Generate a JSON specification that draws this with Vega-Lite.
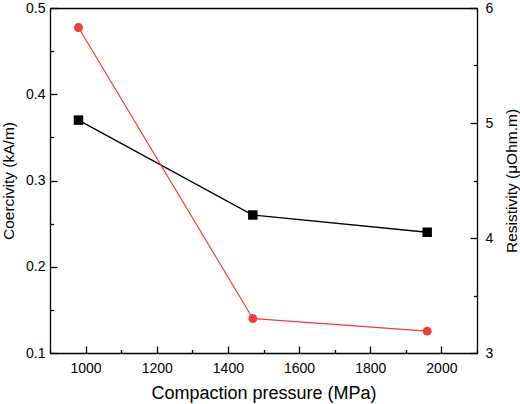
{
  "$schema": "https://vega.github.io/schema/vega-lite/v6.json",
  "autosize": "none",
  "width": 413,
  "height": 331,
  "padding": {"left": 57, "top": 15, "right": 50, "bottom": 58},
  "background": "white",
  "config": {
    "view": {"stroke": null},
    "font": "Liberation Sans",
    "axis": {
      "grid": false,
      "domain": false,
      "domainColor": "black",
      "domainWidth": 1.3,
      "labelColor": "black",
      "titleColor": "black",
      "labelFont": "Liberation Sans",
      "titleFont": "Liberation Sans",
      "labelFontSize": 14,
      "titleFontSize": 15.5,
      "titleFontWeight": "normal"
    }
  },
  "datasets": {
    "coercivity": [
      {"pressure": 980, "coercivity": 0.37},
      {"pressure": 1470, "coercivity": 0.26},
      {"pressure": 1960, "coercivity": 0.24}
    ],
    "resistivity": [
      {"pressure": 980, "resistivity": 5.83},
      {"pressure": 1470, "resistivity": 3.3},
      {"pressure": 1960, "resistivity": 3.19}
    ]
  },
  "layer": [
    {
      "data": {"name": "coercivity"},
      "mark": {"type": "line", "color": "black", "strokeWidth": 1.3},
      "encoding": {
        "x": {
          "field": "pressure", "type": "quantitative",
          "scale": {"domain": [900, 2100], "range": [-7, 420], "nice": false, "zero": false},
          "axis": {
            "orient": "bottom",
            "values": [1000, 1200, 1400, 1600, 1800, 2000],
            "format": "d",
            "ticks": true,
            "tickColor": "black",
            "tickWidth": 1.3,
            "tickSize": 7,
            "labelPadding": 8,
            "title": "Compaction pressure (MPa)",
            "titleFontSize": 18,
            "titlePadding": 9
          }
        },
        "y": {
          "field": "coercivity", "type": "quantitative",
          "scale": {"domain": [0.1, 0.5], "range": [338, -7], "nice": false, "zero": false},
          "axis": {
            "orient": "left",
            "values": [0.1, 0.2, 0.3, 0.4, 0.5],
            "format": ".1f",
            "ticks": true,
            "tickColor": "black",
            "tickWidth": 1.3,
            "tickSize": 7,
            "labelPadding": 5,
            "title": "Coercivity (kA/m)",
            "titlePadding": 9
          }
        }
      }
    },
    {
      "data": {"name": "coercivity"},
      "mark": {"type": "point", "shape": "square", "filled": true, "color": "black", "opacity": 1, "size": 90},
      "encoding": {
        "x": {
          "field": "pressure", "type": "quantitative",
          "scale": {"domain": [900, 2100], "range": [-7, 420], "nice": false, "zero": false},
          "axis": {
            "orient": "bottom",
            "values": [900, 1100, 1300, 1500, 1700, 1900, 2100],
            "ticks": true,
            "tickColor": "black",
            "tickWidth": 1.3,
            "offset": 3.5,
            "tickSize": 3.5,
            "labels": false,
            "title": null
          }
        },
        "y": {
          "field": "coercivity", "type": "quantitative",
          "scale": {"domain": [0.1, 0.5], "range": [338, -7], "nice": false, "zero": false},
          "axis": {
            "orient": "left",
            "values": [0.15, 0.25, 0.35, 0.45],
            "ticks": true,
            "tickColor": "black",
            "tickWidth": 1.3,
            "offset": 3.5,
            "tickSize": 3.5,
            "labels": false,
            "title": null
          }
        }
      }
    },
    {
      "data": {"name": "resistivity"},
      "mark": {"type": "line", "color": "#f03c3c", "strokeWidth": 1.2},
      "encoding": {
        "x": {
          "field": "pressure", "type": "quantitative",
          "scale": {"domain": [900, 2100], "range": [-7, 420], "nice": false, "zero": false},
          "axis": {
            "orient": "top",
            "domain": true,
            "ticks": false,
            "labels": false,
            "offset": 7,
            "title": null
          }
        },
        "y": {
          "field": "resistivity", "type": "quantitative",
          "scale": {"domain": [3, 6], "range": [338, -7], "nice": false, "zero": false},
          "axis": {
            "orient": "right",
            "values": [3, 4, 5, 6],
            "ticks": true,
            "tickColor": "black",
            "tickWidth": 1.3,
            "tickSize": 7,
            "labelPadding": 8,
            "title": "Resistivity (μOhm.m)",
            "titleAngle": -90,
            "titleBaseline": "top",
            "titlePadding": 12
          }
        }
      }
    },
    {
      "data": {"name": "resistivity"},
      "mark": {"type": "circle", "color": "#f03c3c", "opacity": 1, "size": 80},
      "encoding": {
        "x": {
          "field": "pressure", "type": "quantitative",
          "scale": {"domain": [900, 2100], "range": [-7, 420], "nice": false, "zero": false},
          "axis": {
            "orient": "bottom",
            "domain": true,
            "ticks": false,
            "labels": false,
            "offset": 7,
            "title": null
          }
        },
        "y": {
          "field": "resistivity", "type": "quantitative",
          "scale": {"domain": [3, 6], "range": [338, -7], "nice": false, "zero": false},
          "axis": {
            "orient": "right",
            "values": [3.5, 4.5, 5.5],
            "ticks": true,
            "tickColor": "black",
            "tickWidth": 1.3,
            "offset": 3.5,
            "tickSize": 3.5,
            "labels": false,
            "title": null
          }
        }
      }
    },
    {
      "data": {"name": "resistivity"},
      "mark": {"type": "circle", "opacity": 0, "size": 0},
      "encoding": {
        "x": {
          "field": "pressure", "type": "quantitative",
          "scale": {"domain": [900, 2100], "range": [-7, 420], "nice": false, "zero": false},
          "axis": null
        },
        "y": {
          "field": "resistivity", "type": "quantitative",
          "scale": {"domain": [3, 6], "range": [338, -7], "nice": false, "zero": false},
          "axis": {
            "orient": "right",
            "domain": true,
            "ticks": false,
            "labels": false,
            "offset": 7,
            "title": null
          }
        }
      }
    },
    {
      "data": {"name": "coercivity"},
      "mark": {"type": "circle", "opacity": 0, "size": 0},
      "encoding": {
        "x": {
          "field": "pressure", "type": "quantitative",
          "scale": {"domain": [900, 2100], "range": [-7, 420], "nice": false, "zero": false},
          "axis": null
        },
        "y": {
          "field": "coercivity", "type": "quantitative",
          "scale": {"domain": [0.1, 0.5], "range": [338, -7], "nice": false, "zero": false},
          "axis": {
            "orient": "left",
            "domain": true,
            "ticks": false,
            "labels": false,
            "offset": 7,
            "title": null
          }
        }
      }
    }
  ],
  "resolve": {
    "scale": {"y": "independent"},
    "axis": {"x": "independent", "y": "independent"}
  }
}
